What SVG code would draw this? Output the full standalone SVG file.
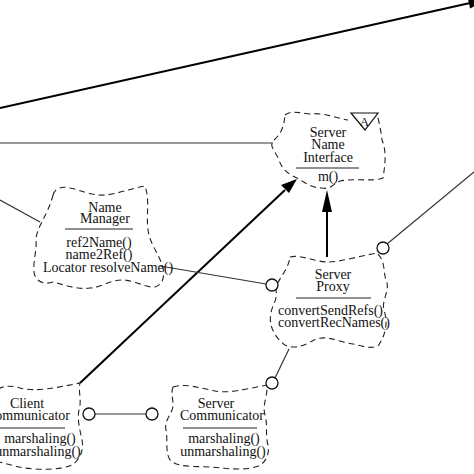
<svg xmlns="http://www.w3.org/2000/svg" width="474" height="474" viewBox="0 0 474 474">
<style>
.cloud{fill:none;stroke:#222;stroke-width:1.1;stroke-dasharray:6,4}
.t{font-family:"Liberation Serif","Times New Roman",serif;font-size:14px;fill:#111;text-anchor:middle}
.tl{font-family:"Liberation Serif","Times New Roman",serif;font-size:14px;fill:#111}
.sep{stroke:#222;stroke-width:1.2}
.thick{stroke:#000;stroke-width:2;fill:none}
.thin{stroke:#333;stroke-width:1.2;fill:none}
.lol{fill:#fff;stroke:#111;stroke-width:1.3}
.head{fill:#000}
</style>
<rect width="474" height="474" fill="#fff"/>
<g id="connectors">
  <line class="thick" x1="0" y1="108" x2="470" y2="3"/>
  <polygon class="head" points="490.5,-1.3 470.1,8.4 467.9,-1.4"/>
  <line class="thin" x1="0" y1="143" x2="273" y2="143"/>
  <line class="thin" x1="0" y1="200" x2="40" y2="222"/>
  <line class="thick" x1="80" y1="383" x2="285" y2="190"/>
  <polygon class="head" points="297,179 281,185 289,193"/>
  <line class="thick" x1="327" y1="257" x2="327" y2="205"/>
  <polygon class="head" points="327,190 322,212 332,212"/>
  <line class="thin" x1="160" y1="266" x2="266" y2="284"/>
  <line class="thin" x1="387" y1="244" x2="474" y2="172"/>
  <line class="thin" x1="289" y1="349" x2="275" y2="378"/>
  <line class="thin" x1="95" y1="414" x2="146" y2="414"/>
</g>
<g id="server-name-interface">
  <path class="cloud" d="M285,115 C292,110 300,113 310,114 C322,112 335,118 348,120 M378,118 C381,130 382,140 382,140 C387,152 385,165 383,178 C372,182 355,178 340,181 C333,184 330,190 322,188 C310,188 303,181 297,178 C290,175 282,170 279,160 C275,150 268,146 274,140 C280,135 284,128 285,115"/>
  <polygon points="351,113 378,113 365,130" fill="#fff" stroke="#111" stroke-width="1.2"/>
  <text x="364.5" y="126" style="font-family:'Liberation Serif',serif;font-size:13px;text-anchor:middle;fill:#111">A</text>
  <text class="t" x="328" y="137">Server</text>
  <text class="t" x="328" y="149">Name</text>
  <text class="t" x="328" y="162">Interface</text>
  <line class="sep" x1="296" y1="168" x2="359" y2="168"/>
  <text class="t" x="328" y="181">m()</text>
</g>
<g id="name-manager">
  <path class="cloud" d="M53,195 C55,188 62,186 70,188 C80,190 92,196 105,195 C118,194 132,188 145,186 C150,200 146,215 148,230 C150,245 160,255 163,268 C165,278 162,285 155,287 C145,288 135,280 122,280 C110,280 100,288 90,288 C78,290 65,285 53,282 C45,285 35,282 34,272 C33,260 37,250 36,240 C36,228 48,215 53,195 Z"/>
  <text class="t" x="105" y="212">Name</text>
  <text class="t" x="105" y="223">Manager</text>
  <line class="sep" x1="65" y1="229" x2="133" y2="229"/>
  <text class="t" x="99" y="247">ref2Name()</text>
  <text class="t" x="99" y="259">name2Ref()</text>
  <text class="t" x="108" y="272">Locator resolveName()</text>
</g>
<g id="server-proxy">
  <path class="cloud" d="M290,257 C300,254 315,262 328,262 C340,262 360,256 377,253 C386,262 383,272 386,280 C391,290 381,300 384,310 C388,322 386,335 378,346 C368,350 358,344 347,343 C335,340 325,335 314,340 C305,345 295,350 285,345 C275,338 268,325 271,313 C272,305 278,300 276,290 C276,280 288,272 290,257 Z"/>
  <text class="t" x="333" y="279">Server</text>
  <text class="t" x="333" y="291">Proxy</text>
  <line class="sep" x1="296" y1="298" x2="371" y2="298"/>
  <text class="tl" x="278" y="315">convertSendRefs()</text>
  <text class="tl" x="278" y="327">convertRecNames()</text>
  <circle class="lol" cx="272" cy="285" r="6"/>
  <circle class="lol" cx="383" cy="248" r="6"/>
</g>
<g id="client-communicator">
  <path class="cloud" d="M-10,395 C0,385 10,385 20,388 C35,392 55,388 80,383 C78,392 82,400 79,410 C77,420 80,430 82,440 C84,450 80,460 72,465 C60,470 40,470 25,468 C10,466 0,460 -10,462"/>
  <text class="t" x="27" y="408">Client</text>
  <text class="t" x="28" y="420">Communicator</text>
  <line class="sep" x1="-5" y1="428" x2="65" y2="428"/>
  <text class="t" x="40" y="443">marshaling()</text>
  <text class="t" x="38" y="456">unmarshaling()</text>
  <circle class="lol" cx="89" cy="414" r="6"/>
</g>
<g id="server-communicator">
  <path class="cloud" d="M173,387 C185,383 200,388 215,391 C230,394 250,388 267,385 C268,395 262,405 265,415 C268,425 265,435 268,445 C270,455 265,465 255,467 C240,471 225,468 210,467 C195,466 178,468 170,460 C165,452 168,440 166,430 C164,422 170,416 172,410 C175,402 170,395 173,387 Z"/>
  <text class="t" x="216" y="408">Server</text>
  <text class="t" x="222" y="420">Communicator</text>
  <line class="sep" x1="183" y1="428" x2="257" y2="428"/>
  <text class="t" x="224" y="443">marshaling()</text>
  <text class="t" x="223" y="456">unmarshaling()</text>
  <circle class="lol" cx="152" cy="414" r="6"/>
  <circle class="lol" cx="272" cy="383" r="6"/>
</g>
</svg>
